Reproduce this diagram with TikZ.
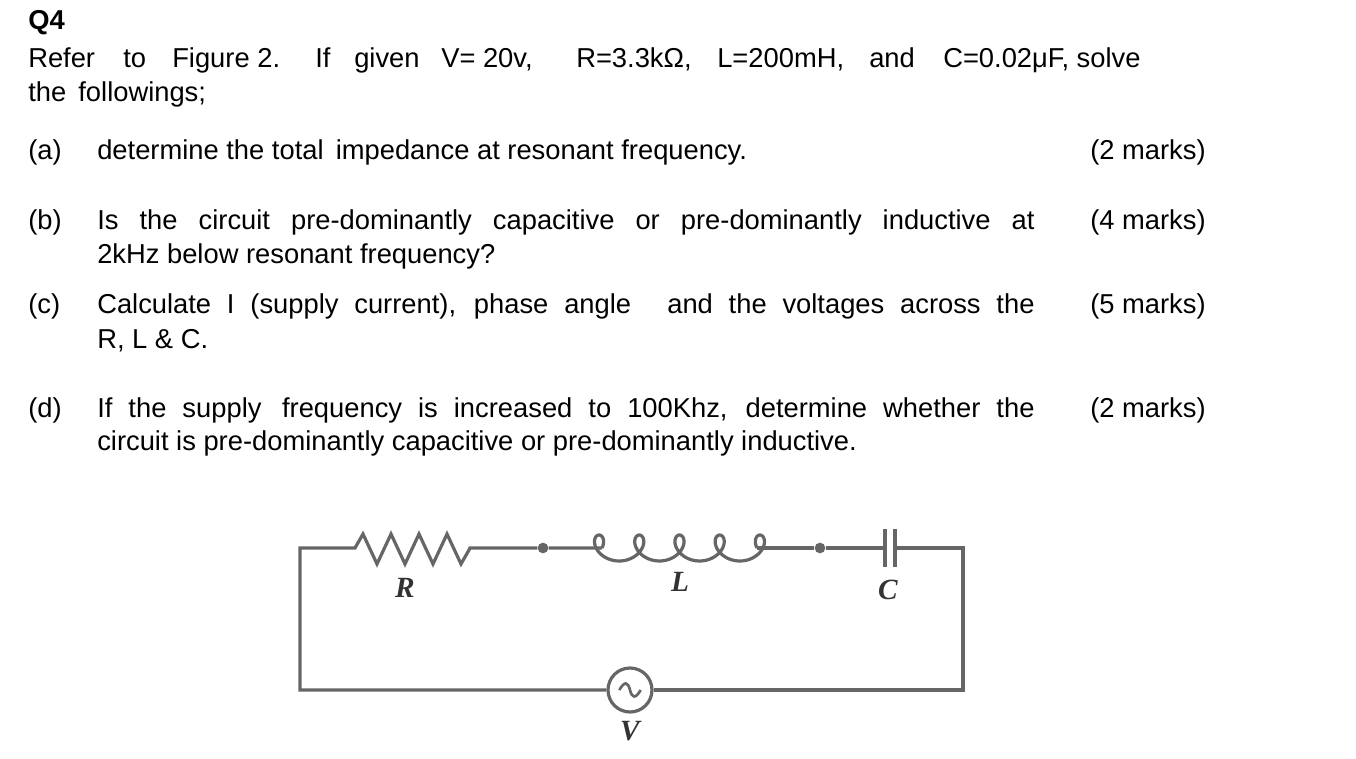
\documentclass[tikz,border=0pt]{standalone}
\usepackage{fontspec}
\setmainfont{Liberation Sans}
\newfontfamily\circfont{Liberation Serif}
\begin{document}
\begin{tikzpicture}[x=0.75pt,y=-0.75pt]
\tikzset{
    txt/.style={anchor=base west, inner sep=0pt, font=\fontsize{20.5}{24}\selectfont},
    wire/.style={draw=black!60, line width=2.4pt, line join=miter},
    comp/.style={font=\circfont\bfseries\itshape\fontsize{22}{26}\selectfont, text=black!80},
    junction/.style={circle, fill=black!60, inner sep=0pt, minimum size=8pt}
}
\useasboundingbox (0,0) rectangle (1356,759);

% Question text
\node[txt, font=\fontsize{20.5}{24}\selectfont\bfseries] (q) at (28,30) {Q4};
\node[txt] (w1) at (28,68) {Refer};
\node[txt] (w2) at (123,68) {to};
\node[txt] (w3) at (172,68) {Figure 2.};
\node[txt] (w4) at (315,68) {If};
\node[txt] (w5) at (354,68) {given};
\node[txt] (w6) at (441,68) {V= 20v,};
\node[txt] (w7) at (576,68) {R=3.3kΩ,};
\node[txt] (w8) at (717,68) {L=200mH,};
\node[txt] (w9) at (869,68) {and};
\node[txt] (w10) at (943,68) {C=0.02μF, solve};
\node[txt] (l2) at (28,102) {the\, followings;};

\node[txt] (pa) at (28,160) {(a)};
\node[txt] (ta) at (97,160) {determine the total\, impedance at resonant frequency.};
\node[txt] (ma) at (1090,160) {(2 marks)};

\node[txt] (pb) at (28,230) {(b)};
\node[txt] (tb1) at (97,230) {\makebox[703pt][s]{Is the circuit pre-dominantly capacitive or pre-dominantly inductive at}};
\node[txt] (tb2) at (97,264) {2kHz below resonant frequency?};
\node[txt] (mb) at (1090,230) {(4 marks)};

\node[txt] (pc) at (28,313) {(c)};
\node[txt] (tc1) at (97,313) {\makebox[703pt][s]{Calculate I (supply current), phase angle \, and the voltages across the}};
\node[txt] (tc2) at (97,348) {R, L \& C.};
\node[txt] (mc) at (1090,313) {(5 marks)};

\node[txt] (pd) at (28,417) {(d)};
\node[txt] (td1) at (97,417) {\makebox[703pt][s]{If the supply\, frequency is increased to 100Khz, determine whether the}};
\node[txt] (td2) at (97,450) {circuit is pre-dominantly capacitive or pre-dominantly inductive.};
\node[txt] (md) at (1090,417) {(2 marks)};

% Circuit
\coordinate (tl) at (300,548);
\coordinate (tr) at (963,548);
\coordinate (bl) at (300,690);
\coordinate (br) at (963,690);
\coordinate (rin) at (355,548);
\coordinate (rout) at (470,548);
\node[junction] (d1) at (543,548) {};
\node[junction] (d2) at (820,548) {};
\coordinate (lin) at (602,548);
\coordinate (lout) at (757,548);
\coordinate (ca) at (885,548);
\coordinate (cb) at (895,548);
\node[circle, draw=black!60, line width=2.4pt, minimum size=33pt, inner sep=0pt] (src) at (630,690) {};

\draw[wire] (src) -- (bl) -- (tl) -- (rin)
  -- ++(8,-14) -- ++(14,30) -- ++(14,-30) -- ++(14,30) -- ++(14,-30) -- ++(14,30) -- ++(14,-30) -- ++(14,30) -- ++(8,-14)
  -- (rout) -- (d1) -- (lin);
\draw[wire, line join=round] plot[domain=-1.5708:26.7035, samples=200, smooth]
  ({599.05 + 6.40*\x - 13*sin(\x r)}, {548 - 13*cos(\x r)});
\draw[wire] (lout) -- (d2) -- (ca);
\draw[wire] (ca) ++(0,-19) -- ++(0,38);
\draw[wire] (cb) ++(0,-19) -- ++(0,38);
\draw[wire] (cb) -- (tr) -- (br) -- (src);
\draw[wire, line width=2pt] ([xshift=-8pt]src.center) .. controls ([xshift=-4pt,yshift=7pt]src.center) and ([xshift=-1.5pt,yshift=6pt]src.center) .. (src.center)
  .. controls ([xshift=1.5pt,yshift=-6pt]src.center) and ([xshift=4pt,yshift=-7pt]src.center) .. ([xshift=8pt]src.center);

\node[comp] (rl) at (405,588) {R};
\node[comp] (ll) at (680,582) {L};
\node[comp] (cl) at (888,590) {C};
\node[comp] (vl) at (630,731) {V};
\end{tikzpicture}
\end{document}
